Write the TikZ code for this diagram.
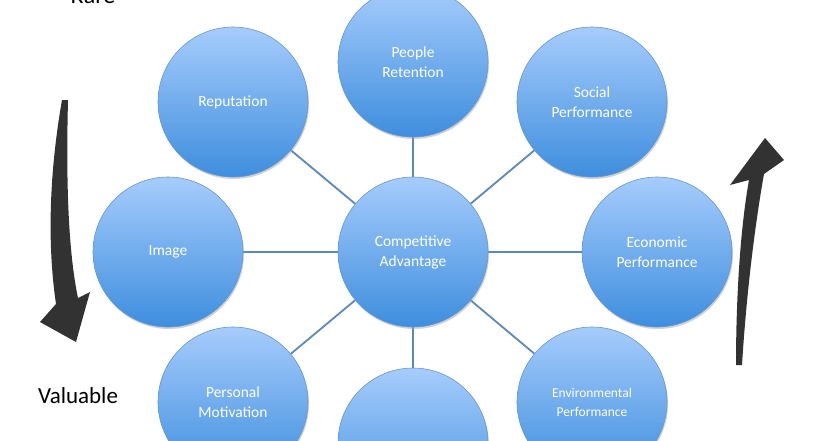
\documentclass[tikz,border=0pt]{standalone}
\usepackage{fontspec}
\setmainfont{Carlito}
\usetikzlibrary{shadows,backgrounds}
\definecolor{ctop}{RGB}{166,204,252}
\definecolor{cbot}{RGB}{62,142,222}
\definecolor{cedge}{RGB}{100,150,210}
\definecolor{link}{RGB}{90,135,190}
\definecolor{arr}{RGB}{50,50,50}
\begin{document}
\begin{tikzpicture}[x=1pt,y=-1pt,
  ball/.style={circle,minimum size=150pt,inner sep=0pt,top color=ctop,bottom color=cbot,draw=cedge,line width=0.6pt,
    text=white,font=\fontsize{15.5}{20}\selectfont,align=center,
    drop shadow={shadow xshift=1pt,shadow yshift=-2pt,fill=black!35,opacity=0.5}},
  link/.style={draw=link,line width=1.8pt}]
\path[use as bounding box] (0,0) rectangle (838,440);
\begin{scope}
\clip (0,0) rectangle (838,440);
\node[ball] (c) at (413,252) {Competitive\\Advantage};
\node[ball] (t) at (413,62) {People\\Retention};
\node[ball] (ne) at (592,102) {Social\\Performance};
\node[ball] (e) at (657,252) {Economic\\Performance};
\node[ball,font=\fontsize{13.5}{19}\selectfont] (se) at (592,402) {Environmental\\Performance};
\node[ball] (b) at (413,443) {};
\node[ball] (sw) at (233,402) {Personal\\Motivation};
\node[ball] (w) at (168,252) {Image};
\node[ball] (nw) at (233,102) {Reputation};
\begin{scope}[on background layer]
\foreach \n in {t,ne,e,se,b,sw,w,nw}{\draw[link] (c) -- (\n);}
\end{scope}
\node[font=\fontsize{24}{28}\selectfont,anchor=base] (rare) at (93,3) {Rare};
\fill[arr] (62,100) .. controls (48,180) and (48,250) .. (56,304)
  -- (40,322) -- (76,342) -- (90,292) -- (78,298)
  .. controls (68,250) and (66,180) .. (68,100) -- cycle;
\fill[arr] (736,365) .. controls (736,300) and (740,230) .. (749,180)
  -- (730,185) -- (765,138) -- (784,160) -- (764,174)
  .. controls (754,230) and (746,300) .. (742,365) -- cycle;
\end{scope}
\node[font=\fontsize{23}{27}\selectfont] (val) at (78,396) {Valuable};
\end{tikzpicture}
\end{document}
